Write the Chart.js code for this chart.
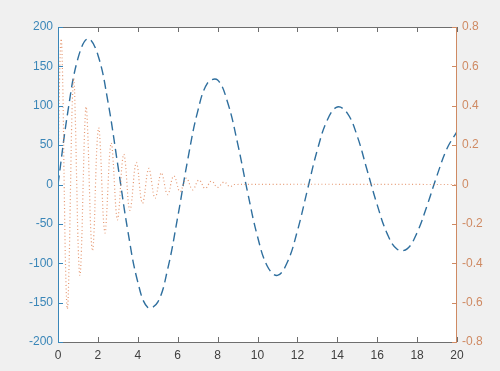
<!DOCTYPE html>
<html lang="en">
<head>
<meta charset="UTF-8">
<title>plotyy</title>
<script src="https://cdn.jsdelivr.net/npm/chart.js"></script>
<style>
    body { margin: 0; background: #f0f0f0; }
    canvas { display: block; }
</style>
</head>
<body>
<canvas id="chart" width="500" height="371"></canvas>
<script>
// left axis series (dashed blue)
const blueX = [0, 0.5, 1, 1.5, 2, 2.5, 3, 3.5, 4, 4.5, 5, 5.5, 6, 6.5, 7, 7.5, 8, 8.5, 9, 9.5,
    10, 10.5, 11, 11.5, 12, 12.5, 13, 13.5, 14, 14.5, 15, 15.5, 16, 16.5, 17, 17.5, 18, 18.5, 19, 19.5, 20];
const blueY = [0, 93.5, 160.1, 185.1, 164.5, 105.6, 24.3, -58.9, -123.9, -156.1, -149.4, -107.2, -41.4, 31.1, 92.6, 128.9, 132.6, 104.4, 52.6, -9.4,
    -66.0, -104.1, -115.4, -98.5, -58.9, -7.1, 43.9, 81.9, 98.4, 90.6, 61.4, 17.7, -25.9, -62.4, -82.2, -81.7, -61.1, -26.8, 11.6, 45.7, 67.2];

// right axis series (dotted orange)
const orangeX = [0, .08, .16, .24, .31, .39, .47, .55,
    .63, .71, .79, .86, .94, 1.02, 1.10, 1.18,
    1.26, 1.34, 1.41, 1.49, 1.57, 1.65, 1.73, 1.81,
    1.88, 1.96, 2.04, 2.12, 2.20, 2.28, 2.36, 2.43,
    2.51, 2.59, 2.67, 2.75, 2.83, 2.91, 2.98, 3.06,
    3.14, 3.22, 3.30, 3.38, 3.46, 3.53, 3.61, 3.69,
    3.77, 3.85, 3.93, 4.01, 4.08, 4.16, 4.24, 4.32,
    4.40, 4.48, 4.56, 4.63, 4.71, 4.79, 4.87, 4.95,
    5.03, 5.11, 5.18, 5.26, 5.34, 5.42, 5.50, 5.58,
    5.65, 5.73, 5.81, 5.89, 5.97, 6.05, 6.13, 6.20,
    6.28, 6.36, 6.44, 6.52, 6.60, 6.68, 6.75, 6.83,
    6.91, 6.99, 7.07, 7.15, 7.23, 7.30, 7.38, 7.46,
    7.54, 7.62, 7.70, 7.78, 7.85, 7.93, 8.01, 8.09,
    8.17, 8.25, 8.33, 8.40, 8.48, 8.56, 8.64, 8.72,
    8.80, 20];
const orangeY = [0, .544, .740, .503, 0, -.465, -.632, -.430,
    0, .397, .540, .367, 0, -.340, -.462, -.314,
    0, .290, .395, .268, 0, -.248, -.337, -.229,
    0, .212, .288, .196, 0, -.181, -.246, -.168,
    0, .155, .211, .143, 0, -.132, -.180, -.122,
    0, .113, .154, .105, 0, -.097, -.131, -.089,
    0, .083, .112, .076, 0, -.071, -.096, -.065,
    0, .060, .082, .056, 0, -.052, -.070, -.048,
    0, .044, .060, .041, 0, -.038, -.051, -.035,
    0, .032, .044, .030, 0, -.028, -.037, -.025,
    0, .024, .032, .022, 0, -.020, -.027, -.019,
    0, .017, .023, .016, 0, -.015, -.020, -.014,
    0, .013, .017, .012, 0, -.011, -.015, -.010,
    0, .009, .013, .009, 0, -.008, -.011, -.007,
    0, 0];

// tick labels
const xTicks = [0, 2, 4, 6, 8, 10, 12, 14, 16, 18, 20];
const leftTicks = [-200, -150, -100, -50, 0, 50, 100, 150, 200];
const rightTicks = ['-0.8', '-0.6', '-0.4', '-0.2', '0', '0.2', '0.4', '0.6', '0.8'];

const BLUE_AX = '#3a86b8';
const ORANGE_AX = '#cf8a63';
const GRAY_AX = '#6e6e6e';

const pairs = (xs, ys) => xs.map((x, i) => ({ x: x, y: ys[i] }));

// white plot box, axis lines and inward ticks like MATLAB
const boxPlugin = {
    id: 'box',
    beforeDatasetsDraw(chart) {
        const { ctx, chartArea: a } = chart;
        ctx.save();
        ctx.fillStyle = '#ffffff';
        ctx.fillRect(a.left, a.top, a.right - a.left, a.bottom - a.top);
        ctx.restore();
    },
    afterDatasetsDraw(chart) {
        const { ctx, chartArea: a, scales } = chart;
        const tl = 5;
        ctx.save();
        ctx.lineWidth = 1;
        // x ticks bottom + top
        ctx.strokeStyle = GRAY_AX;
        ctx.beginPath();
        xTicks.forEach(v => {
            const px = Math.round(scales.x.getPixelForValue(v)) + 0.5;
            ctx.moveTo(px, a.bottom); ctx.lineTo(px, a.bottom - tl);
            ctx.moveTo(px, a.top); ctx.lineTo(px, a.top + tl);
        });
        ctx.moveTo(a.left, a.top + 0.5); ctx.lineTo(a.right, a.top + 0.5);
        ctx.moveTo(a.left, a.bottom + 0.5); ctx.lineTo(a.right, a.bottom + 0.5);
        ctx.stroke();
        // left axis
        ctx.strokeStyle = BLUE_AX;
        ctx.beginPath();
        ctx.moveTo(a.left + 0.5, a.top); ctx.lineTo(a.left + 0.5, a.bottom + 1);
        leftTicks.forEach(v => {
            const py = Math.round(scales.y.getPixelForValue(v)) + 0.5;
            ctx.moveTo(a.left, py); ctx.lineTo(a.left + tl, py);
        });
        ctx.stroke();
        // right axis
        ctx.strokeStyle = ORANGE_AX;
        ctx.beginPath();
        ctx.moveTo(a.right - 0.5, a.top); ctx.lineTo(a.right - 0.5, a.bottom + 1);
        rightTicks.forEach(v => {
            const py = Math.round(scales.y2.getPixelForValue(Number(v))) + 0.5;
            ctx.moveTo(a.right, py); ctx.lineTo(a.right - tl, py);
        });
        ctx.stroke();
        ctx.restore();
    }
};

new Chart(document.getElementById('chart'), {
    type: 'line',
    data: {
        datasets: [
            {
                data: pairs(orangeX, orangeY),
                yAxisID: 'y2',
                borderColor: 'rgba(222,120,70,0.75)',
                borderWidth: 1.2,
                borderDash: [1, 2.5],
                pointRadius: 0,
                tension: 0.4,
                fill: false
            },
            {
                data: pairs(blueX, blueY),
                yAxisID: 'y',
                borderColor: '#2f6f9e',
                borderWidth: 1.4,
                borderDash: [9, 5],
                pointRadius: 0,
                tension: 0.4,
                fill: false
            }
        ]
    },
    options: {
        responsive: false,
        animation: false,
        devicePixelRatio: 1,
        layout: { padding: { top: 27, left: 0, right: 0, bottom: 0 } },
        plugins: { legend: { display: false }, tooltip: { enabled: false } },
        scales: {
            x: {
                type: 'linear', min: 0, max: 20,
                afterBuildTicks: s => { s.ticks = xTicks.map(v => ({ value: v })); },
                afterFit: s => { s.height = 29; },
                grid: { display: false, drawTicks: false },
                border: { display: false },
                ticks: { padding: 6, color: '#404040', font: { family: 'Liberation Sans', size: 12 }, maxRotation: 0 }
            },
            y: {
                position: 'left', min: -200, max: 200,
                afterBuildTicks: s => { s.ticks = leftTicks.map(v => ({ value: v })); },
                afterFit: s => { s.width = 58; },
                grid: { display: false, drawTicks: false },
                border: { display: false },
                ticks: { padding: 5, color: BLUE_AX, font: { family: 'Liberation Sans', size: 12 } }
            },
            y2: {
                position: 'right', min: -0.8, max: 0.8,
                afterBuildTicks: s => { s.ticks = rightTicks.map(v => ({ value: Number(v) })); },
                afterFit: s => { s.width = 43; },
                grid: { display: false, drawTicks: false },
                border: { display: false },
                ticks: {
                    padding: 5, color: ORANGE_AX, font: { family: 'Liberation Sans', size: 12 },
                    callback: (v, i) => rightTicks[i]
                }
            }
        }
    },
    plugins: [boxPlugin]
});
</script>
</body>
</html>
